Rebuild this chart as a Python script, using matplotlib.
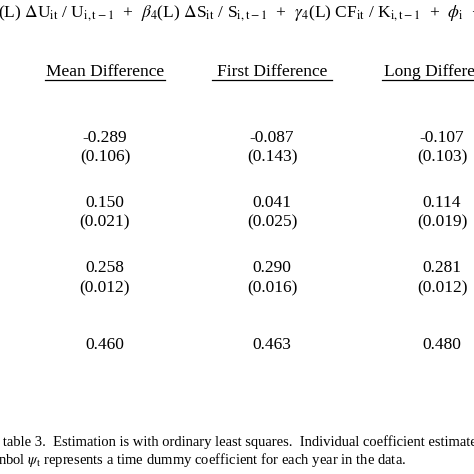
import matplotlib
matplotlib.use("Agg")
import matplotlib.pyplot as plt

plt.rcParams["mathtext.fontset"] = "stix"

columns = ["Mean Difference", "First Difference", "Long Difference"]
coef1 = ["-0.289", "-0.087", "-0.107"]
se1 = ["(0.106)", "(0.143)", "(0.103)"]
coef2 = ["0.150", "0.041", "0.114"]
se2 = ["(0.021)", "(0.025)", "(0.019)"]
coef3 = ["0.258", "0.290", "0.281"]
se3 = ["(0.012)", "(0.016)", "(0.012)"]
r2 = ["0.460", "0.463", "0.480"]

W = H = 474
fig = plt.figure(figsize=(4.74, 4.74), dpi=100)
fig.patch.set_facecolor("white")
ff = ["Liberation Serif", "DejaVu Serif"]

def T(x, y, s, size=12, ha="center", **kw):
    fig.text(x / W, 1 - y / H, s, ha=ha, va="center", fontsize=size, family=ff, **kw)

T(-2, 13, r"(L) $\Delta$U$_{\rm it}$ / U$_{\rm i,t-1}$  +  $\beta_4$(L) $\Delta$S$_{\rm it}$ / S$_{\rm i,t-1}$  +  $\gamma_4$(L) CF$_{\rm it}$ / K$_{\rm i,t-1}$  +  $\phi_{\rm i}$  +  $\psi_{\rm t}$  +",
  size=12.5, ha="left")

xs = [105, 272, 442]
for x, c in zip(xs, columns):
    fig.text(x / W, 1 - 72 / H, c, ha="center", va="center", fontsize=12.5, family=ff)
    fig.add_artist(plt.Line2D([(x - 60) / W, (x + 60) / W], [1 - 80 / H] * 2, color="black", lw=0.9))

rows = [(138, coef1), (157, se1), (203, coef2), (222, se2), (268, coef3), (288, se3), (345, r2)]
for y, vals in rows:
    for x, v in zip(xs, vals):
        T(x, y, v, size=12.5)

T(-8, 442, "o table 3.  Estimation is with ordinary least squares.  Individual coefficient estimates a", size=10.5, ha="left")
T(-2, 460, r"nbol $\psi_{\rm t}$ represents a time dummy coefficient for each year in the data.", size=10.5, ha="left")

fig.savefig("out.png", dpi=100)
